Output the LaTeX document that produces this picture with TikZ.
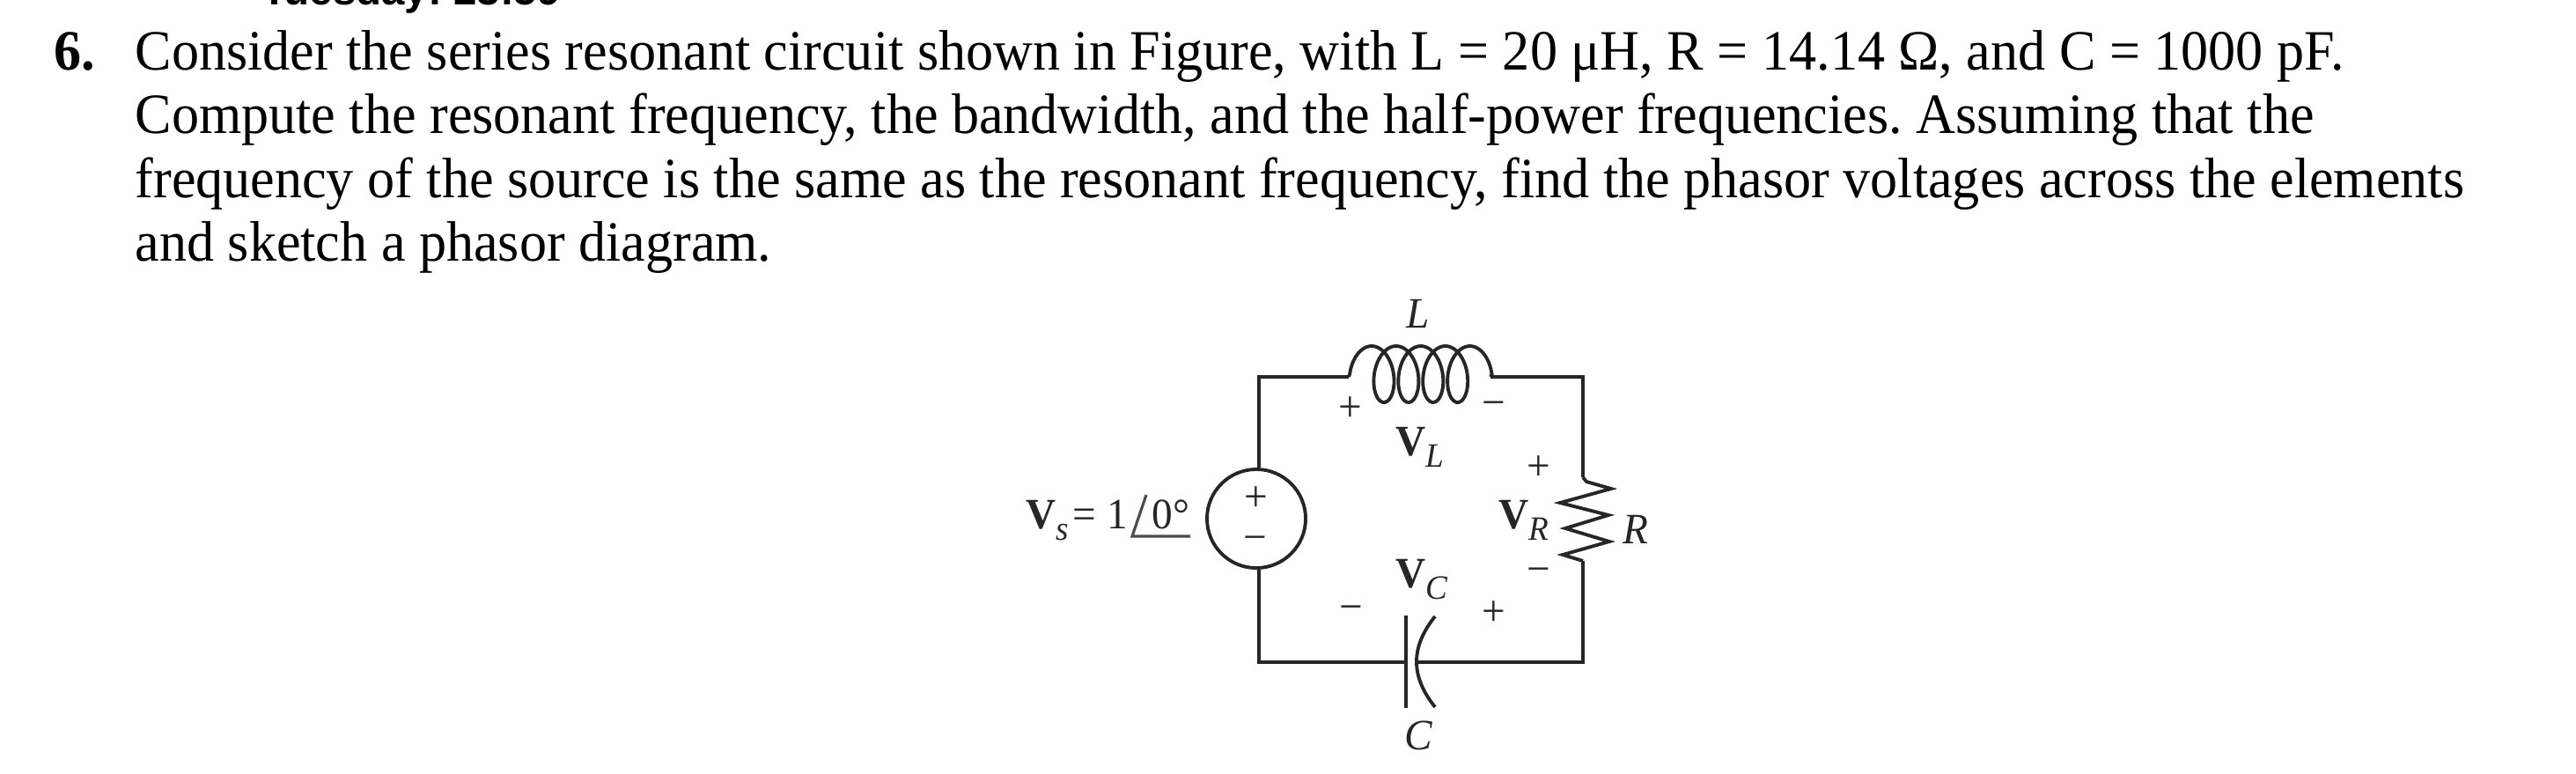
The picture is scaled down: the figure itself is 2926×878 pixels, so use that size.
\documentclass[tikz,border=0pt]{standalone}
\usepackage{fontspec}
\setmainfont[FakeStretch=0.96]{Liberation Serif}
\setsansfont{Liberation Sans}
\usetikzlibrary{positioning}
\tikzset{
    x=0.01cm,y=-0.01cm,
    wire/.style = {line width=1.1pt,color=black!85,line join=miter},
    textline/.style = {anchor=base west,inner sep=0pt,font=\fontsize{18.4}{20}\selectfont},
    sign/.style = {inner sep=0pt,font=\fontsize{14}{14}\selectfont,color=black!85},
    symb/.style = {anchor=base west,inner sep=0pt,font=\fontsize{14}{14}\selectfont\itshape,color=black!85},
    volt/.style = {anchor=base west,inner sep=0pt,font=\fontsize{14}{14}\selectfont,color=black!85},
    source/.style = {circle,draw,line width=1.1pt,color=black!85,minimum size=1.12cm,inner sep=0pt}
}
\newcommand{\vsub}[1]{\textbf{V}\raisebox{-.58ex}{\fontsize{11}{11}\selectfont\textit{#1}}}
\frenchspacing

\begin{document}
\begin{tikzpicture}
    \useasboundingbox (0,0) rectangle (2926,878);
    \node[anchor=base,inner sep=0pt,font=\fontsize{13.5}{14}\selectfont\bfseries\sffamily] (head) at (467,5) {Tuesday: 23:59};
    \node[textline,font=\fontsize{18.4}{20}\selectfont\bfseries] (num) at (61,79) {6.};
    \node[textline] (line1) at (153,79) {Consider the series resonant circuit shown in Figure, with L = 20 μH, R = 14.14 Ω, and C = 1000 pF.};
    \node[textline] (line2) at (153,151) {Compute the resonant frequency, the bandwidth, and the half-power frequencies. Assuming that the};
    \node[textline] (line3) at (153,224) {frequency of the source is the same as the resonant frequency, find the phasor voltages across the elements};
    \node[textline] (line4) at (153,296) {and sketch a phasor diagram.};

    % corners and terminals
    \coordinate (tl) at (1430,428);
    \coordinate (tr) at (1798,428);
    \coordinate (bl) at (1430,752);
    \coordinate (br) at (1798,752);
    \coordinate (lin) at (1532,428);
    \coordinate (lout) at (1693,428);
    \coordinate (rin) at (1798,542);
    \coordinate (rout) at (1798,637);
    \coordinate (cl) at (1597,752);
    \coordinate (cr) at (1609,752);
    \node[source] (vs) at (1427,589) {};

    \draw[wire] (tl |- vs.north) -- (tl) -- (lin);
    \draw[wire] (lout) -- (tr) -- (rin);
    \draw[wire] (rout) -- (br) -- (cr);
    \draw[wire] (cl) -- (bl) -- (bl |- vs.south);

    % inductor
    \draw[wire,smooth] (lin) -- plot[domain=-90:1530,samples=130,variable=\t]
        ({1558+0.0775*\t+18*sin(\t)},{425-32*cos(\t)}) -- (lout);
    % resistor
    \draw[wire] (rin) -- (1802,547) -- (1830,555) -- (1772,571) -- (1827,585) -- (1778,600) -- (1828,615) -- (1775,630) -- (rout);
    % capacitor
    \draw[wire] (1597,699) -- (1597,804);
    \draw[wire] (1630,700) .. controls (1602,735) and (1602,768) .. (1630,803);

    \node[symb] (labL) at (1597,372) {L};
    \node[sign] (plusL) at (1534,465) {+};
    \node[sign] (minusL) at (1697,465) {−};
    \node[volt] (volL) at (1585,517) {\vsub{L}};
    \node[sign] (plusR) at (1748,532) {+};
    \node[volt] (volR) at (1702,600) {\vsub{R}};
    \node[sign] (minusR) at (1748,654) {−};
    \node[symb] (labR) at (1843,617) {R};
    \node[volt] (volC) at (1585,667) {\vsub{C}};
    \node[sign] (minusC) at (1535,697) {−};
    \node[sign] (plusC) at (1697,697) {+};
    \node[symb] (labC) at (1595,851) {C};
    \node[sign] (plusS) at (1427,567) {+};
    \node[sign] (minusS) at (1426,618) {−};

    \node[volt] (vval) at (1165,600) {\vsub{s}};
    \node[volt] (veq) at (1218,600) {= 1};
    \node[volt] (vang) at (1308,600) {0°};
    \coordinate (aa) at (1302,562);
    \coordinate (ab) at (1286,609);
    \coordinate (ac) at (1352,609);
    \draw[wire,line width=.9pt,color=black!70] (aa) -- (ab) -- (ac);
\end{tikzpicture}
\end{document}
